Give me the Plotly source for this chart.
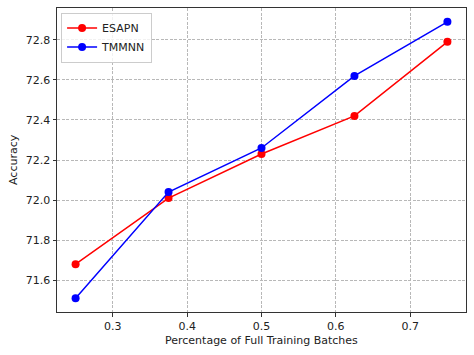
import plotly.graph_objects as go

x_vals = [0.25, 0.375, 0.5, 0.625, 0.75]
esapn = [71.68, 72.01, 72.23, 72.42, 72.79]
tmmnn = [71.51, 72.04, 72.26, 72.62, 72.89]
x_ticks = [0.3, 0.4, 0.5, 0.6, 0.7]
y_ticks = [71.6, 71.8, 72.0, 72.2, 72.4, 72.6, 72.8]

font = dict(family="DejaVu Sans", size=11, color="#222222")

fig = go.Figure()
fig.add_trace(go.Scatter(x=x_vals, y=esapn, mode="lines+markers", name="ESAPN",
                         line=dict(color="red", width=1.5), marker=dict(color="red", size=8)))
fig.add_trace(go.Scatter(x=x_vals, y=tmmnn, mode="lines+markers", name="TMMNN",
                         line=dict(color="blue", width=1.5), marker=dict(color="blue", size=8)))

axis_common = dict(showline=True, linecolor="#333333", linewidth=1, mirror=True,
                   ticks="outside", ticklen=3.5, tickwidth=0.8, tickcolor="#333333",
                   showgrid=True, gridcolor="#b8b8b8", griddash="3px,1.5px", gridwidth=0.8,
                   zeroline=False, tickfont=font, automargin=False)

fig.update_layout(
    width=474, height=355,
    margin=dict(l=57, r=8, t=8, b=43),
    plot_bgcolor="white", paper_bgcolor="white",
    font=font,
    showlegend=True,
    hovermode=False,
    legend=dict(x=0.01, y=0.985, xanchor="left", yanchor="top",
                bordercolor="#cccccc", borderwidth=1, bgcolor="rgba(255,255,255,0.8)",
                font=font, tracegroupgap=0, itemwidth=30),
    annotations=[
        dict(text="Percentage of Full Training Batches", xref="paper", yref="paper",
             x=0.5, y=0, yshift=-28, xanchor="center", yanchor="middle",
             showarrow=False, font=font),
        dict(text="Accuracy", xref="paper", yref="paper", x=0, y=0.5, xshift=-44,
             xanchor="center", yanchor="middle", textangle=-90, showarrow=False, font=font),
    ],
)
fig.update_xaxes(range=[0.225, 0.775], tickvals=x_ticks, ticktext=[str(v) for v in x_ticks],
                 **axis_common)
fig.update_yaxes(range=[71.441, 72.959], tickvals=y_ticks, ticktext=[f"{v:.1f}" for v in y_ticks],
                 **axis_common)

fig.write_html("out.html", config={"displayModeBar": False},
               post_script="document.body.style.margin='0';document.body.style.overflow='hidden';")
